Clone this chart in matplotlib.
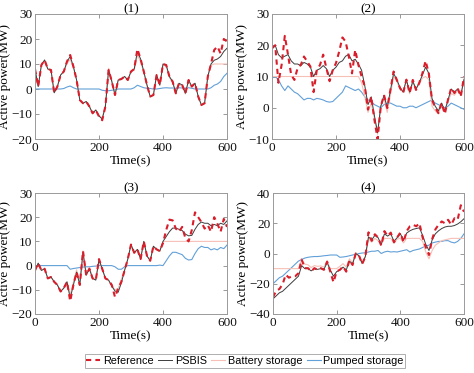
import numpy as np
import matplotlib
matplotlib.use("Agg")
import matplotlib.pyplot as plt

# time axis (s)
t = list(range(0, 601, 10))

# ---------------- Panel (1) ----------------
ref1 = [8, 1, 9.6, 11.6, 8, 7.6, -1.5, 1, 5.6, 7,
        11, 13.6, 9, 3.6, -4.4, -5.7, -5, -7, -9.7, -8.4,
        -11, -12.5, -7, 7.6, 3, -2.4, 3.6, 4, 5, 3.6,
        7, 8, 16, 12, 7, 1.6, -3, -2.4, 5.6, 1.6,
        10, 9.6, 5, 3, -1.7, 2.3, 1.6, -1.7, 3.6, 1,
        2.3, -3, -6.4, -5.7, 5, 10, 15.6, 17, 14.2, 20,
        19]
psb1 = [8, 1, 9.6, 11.6, 8, 7.6, -1.5, 1, 5.6, 7,
        11, 13, 9, 3.6, -4.4, -5.7, -5, -7, -9.7, -8.4,
        -10.8, -12, -7, 7.6, 3, -2.4, 3.6, 4, 5, 3.6,
        7, 8, 15, 12, 7, 1.6, -3, -2.4, 5.6, 1.6,
        10, 9.6, 5, 3, -1.7, 2.3, 1.6, -1.7, 3.6, 1,
        2.3, -3, -6.4, -5.7, 5, 10, 11.5, 12, 13, 15,
        16.3]
bat1 = [8, 1, 9.6, 11.6, 8, 7.6, -1.5, 1, 5.6, 6.8,
        10.2, 11.8, 8.5, 3.6, -4.4, -5.7, -5, -7, -9.7, -8.4,
        -10.8, -11.5, -6.3, 8.3, 3.5, -2.1, 3.6, 4, 5, 3.6,
        7, 7.5, 13.5, 11, 6.5, 1.3, -3.2, -2.4, 5.6, 1.4,
        9.6, 9.1, 4.6, 2.6, -2, 1.8, 1.2, -2, 3.1, 0.7,
        2.3, -3, -6.4, -5.7, 5, 9.5, 10, 10, 10, 10,
        10]
pum1 = [0, 0, 0, 0, 0, 0, 0, 0, 0, 0.2,
        0.8, 1.2, 0.5, 0, 0, 0, 0, 0, 0, 0,
        0, -0.5, -0.7, -0.7, -0.5, -0.3, 0, 0, 0, 0,
        0, 0.5, 1.5, 1, 0.5, 0.3, 0.2, 0, 0, 0.2,
        0.4, 0.5, 0.4, 0.4, 0.3, 0.5, 0.4, 0.3, 0.5, 0.3,
        0, 0, 0, 0, 0, 0.5, 1.5, 2, 3, 5,
        6.3]

# ---------------- Panel (2) ----------------
ref2 = [19, 20, 8, 13.7, 23, 17, 10.5, 8.9, 12.7, 13.7,
        16.4, 14.8, 13.2, 5, 12.1, 13.7, 17, 12.7, 8.5, 12.1,
        14.3, 18, 22.5, 21.2, 16.4, 11, 18.5, 13.7, 10, 6.8,
        -0.6, 3.6, -3.8, -10, 0.4, 4.1, -0.1, 5.7, 11.6, 8.9,
        6.3, 4.7, 9, 4.7, 8.9, 5.7, 7.9, 11, 15, 11,
        2.6, 0, -1.7, 1.5, -2, 2.6, 6.3, 4.7, 6.3, 3.6,
        10]
psb2 = [19, 20, 17, 16, 16.5, 17, 15, 14, 14, 13.5,
        14.5, 14, 13, 10, 12, 12.5, 13.5, 12.5, 10, 12,
        13, 14.5, 15, 16.5, 17, 15, 15.5, 14, 12, 7,
        1, 3.5, -2.5, -8, 0.5, 4, 0, 5.5, 11, 9,
        6.5, 5, 9, 5, 8.5, 6, 8, 10.5, 13, 11,
        3, 0.5, -1, 1.5, -1, 2.5, 6, 5, 6, 4,
        9]
bat2 = [10, 10, 10, 10, 10, 10, 10, 10, 10, 10,
        10, 10, 10, 10, 10, 10, 10, 10, 10, 10,
        10, 10, 10, 10, 10, 10, 10, 10, 8, 3.5,
        -1.5, 1.5, -3.5, -8.5, 0.5, 3, -1.5, 4, 10, 8.5,
        6, 5, 9, 4.5, 8, 6, 7.5, 9.5, 10, 9,
        0.5, -1, -2, 1, -1, 2, 4.5, 4, 5.5, 4,
        9.5]
pum2 = [9.5, 10, 9, 7, 5.5, 7, 6, 5, 4.5, 3.5,
        2.5, 3, 3, 2.5, 3, 2.8, 2.5, 2, 1.8, 2,
        3, 4, 5, 7, 6.5, 6, 5.5, 6, 5, 3.5,
        2.5, 2, 1, 0.5, 0, 1, 1.5, 1.5, 1, 0.5,
        0.5, 0, 0, 0.5, 0.5, 0, 0.5, 1, 1.5, 2,
        2.5, 1.5, 1, 0.5, 0, 0.5, 1.5, 1, 0.5, 0,
        -0.5]

# ---------------- Panel (3) ----------------
ref3 = [-2, 1, -2, -1.3, -5.3, -4.7, -6.7, -8, -10.7, -9.3,
        -6.7, -14.7, -8, -2.7, -8, 6, -4, -1.3, -5.3, -6,
        2.7, -1.3, -5.3, -6, -8, -13, -9.3, -6.7, -2, 2.7,
        8.7, 5.3, 6.7, 2.7, 10, 4, 2, 8, 6.7, 6,
        9.3, 14.7, 19, 18.7, 15.3, 14, 16, 11.3, 10, 14.7,
        22, 20, 18, 15.3, 16.7, 14, 20, 17.3, 14, 19.3,
        16]
psb3 = [-2, 1, -2, -1.3, -5.3, -4.7, -6.7, -8, -10.7, -9.3,
        -6.7, -13.5, -8, -2.7, -8, 5.5, -4, -1.3, -5.3, -6,
        2.5, -1.3, -5.3, -6, -8.5, -10.5, -11, -7, -2, 2.7,
        8.7, 5.3, 6.7, 2.7, 10, 4, 2, 8, 6.7, 6,
        10, 12, 14, 15.5, 15.5, 15, 14.5, 13, 12.3, 12.5,
        15, 17, 18, 17.5, 17.5, 16.5, 17, 16.5, 17.5, 17,
        18.5]
bat3 = [-2, 1, -2, -1.3, -5.3, -4.7, -6.7, -8, -10.7, -9.3,
        -6.7, -12, -6.8, -1.7, -7.2, 6.1, -3.5, -0.8, -5, -5.8,
        2.5, -1.3, -5.3, -6, -8.5, -10, -9.5, -5.5, -1.5, 2.7,
        8.7, 5.3, 6.7, 2.7, 10, 4, 2, 8, 6.7, 5.8,
        10, 10, 10, 10, 10, 10, 10, 10, 10, 10,
        10, 10, 10, 10, 10, 10, 10, 10, 10, 10,
        10]
pum3 = [0, 0, 0, 0, 0, 0, 0, 0, 0, 0,
        0, -1.5, -1.2, -1, -0.8, -0.6, -0.5, -0.5, -0.3, -0.2,
        0, 0, 0, 0, 0, -0.5, -1.5, -1.5, -0.5, 0,
        0, 0, 0, 0, 0, 0, 0, 0, 0, 0.2,
        0, 2, 4, 5.5, 5.5, 5, 4.5, 3, 2.3, 2.5,
        5, 7, 8, 7.5, 7.5, 6.5, 7, 6.5, 7.5, 7,
        8.5]

# ---------------- Panel (4) ----------------
ref4 = [-29, -24.6, -23.5, -20.4, -14, -16, -15, -15, -13, -4,
        -9.7, -9.7, -11.8, -9.7, -10.8, -9.7, -10.8, -5.4, -12, -19,
        -11.8, -10.8, -8.6, -12, -4.4, -7.6, 0, -1.2, -7, -2.2,
        14, 8.4, 12.7, 10.6, 5.2, 14.8, 11.6, 13.8, 7.4, 10.6,
        13.8, 7.4, 14.8, 18, 19, 18, 20, 10.6, 4.2, -1,
        9.5, 15.9, 19, 21.2, 20, 22.3, 19, 23.3, 22.3, 31.9,
        27.6]
psb4 = [-30, -28, -26, -25, -23, -21, -19, -17, -15, -8,
        -10, -10, -11.5, -10, -10.5, -10, -10.5, -6, -11, -15,
        -12, -11, -9, -11, -5, -7, 0, -1.5, -6.5, -2,
        11, 9, 12, 10.5, 6, 13, 11.5, 13, 8, 10.5,
        13, 9, 13.5, 15, 16, 16.5, 17, 12, 6, 2,
        9, 13, 15, 16.5, 17.5, 18, 18, 18.5, 19.5, 21,
        23]
bat4 = [-10, -10, -10, -10, -10, -10, -10, -10, -10, -4,
        -7, -7.5, -9.3, -8, -8.5, -8.2, -9, -4.7, -10, -10,
        -10, -8.5, -6.7, -9, -3.5, -6, 0.5, -1.5, -6.8, -2.5,
        10, 7.5, 10, 8.5, 6, 10, 10, 10, 6.8, 9.5,
        10, 7, 10, 10, 10, 10, 10, 8, 1, -3.5,
        2, 5.5, 7, 8.5, 9, 9.5, 10, 10, 10, 10,
        10]
pum4 = [-20, -18, -16, -15, -13, -11, -9, -7, -5, -4,
        -3, -2.5, -2.2, -2, -2, -1.8, -1.5, -1.3, -1, -1,
        -1, -2.5, -2.3, -2, -1.5, -1, -0.5, 0, 0.3, 0.5,
        1, 1.5, 1.5, 2, 0, 1, 1.5, 1, 1.2, 1,
        1.5, 2, 2.5, 1, 2, 2.5, 3, 4, 5, 5.5,
        7, 7.5, 8, 8, 8.5, 8.5, 7.5, 7, 8, 10,
        13]

titles = ["(1)", "(2)", "(3)", "(4)"]
ylims = [(-20, 30), (-10, 30), (-20, 30), (-40, 40)]
yticks = [[-20, -10, 0, 10, 20, 30], [-10, 0, 10, 20, 30],
          [-20, -10, 0, 10, 20, 30], [-40, -20, 0, 20, 40]]
xticks = [0, 200, 400, 600]
series = [(ref1, psb1, bat1, pum1), (ref2, psb2, bat2, pum2),
          (ref3, psb3, bat3, pum3), (ref4, psb4, bat4, pum4)]
legend_labels = ["Reference", "PSBIS", "Battery storage", "Pumped storage"]

c_ref = "#d81e2a"
c_psb = "#3c3c3c"
c_bat = "#f6c0b6"
c_pum = "#62a0d8"

W, H = 474, 373
fig = plt.figure(figsize=(W / 100, H / 100), dpi=100)
serif = ["Liberation Serif", "DejaVu Serif"]
fs = 9.5

# axes positions in pixels: left, top, right, bottom
pos_px = [(35, 14, 227, 139), (272, 14, 464, 139),
          (35, 193, 227, 314), (273, 193, 464, 314)]

handles = None
for i, (l, tp, r, b) in enumerate(pos_px):
    ax = fig.add_axes([l / W, 1 - b / H, (r - l) / W, (b - tp) / H])
    ref, psb, bat, pum = series[i]
    hp, = ax.plot(t, pum, color=c_pum, lw=0.8)
    hb, = ax.plot(t, bat, color=c_bat, lw=0.8)
    hs, = ax.plot(t, psb, color=c_psb, lw=0.7)
    hr, = ax.plot(t, ref, color=c_ref, lw=1.5, ls=(0, (2.5, 2)))
    handles = [hr, hs, hb, hp]
    ax.set_xlim(0, 600)
    ax.set_ylim(*ylims[i])
    ax.set_xticks(xticks)
    ax.set_yticks(yticks[i])
    ax.tick_params(direction="in", length=3, width=0.6, color="#888888",
                   labelsize=fs, pad=2, top=True, right=True, labelcolor="#111111")
    for lab in ax.get_xticklabels() + ax.get_yticklabels():
        lab.set_family(serif)
    for sp in ax.spines.values():
        sp.set_color("#9a9a9a")
        sp.set_linewidth(0.7)
    ax.set_title(titles[i], fontsize=fs, family=serif, pad=1.5)
    ax.set_xlabel("Time(s)", fontsize=fs, family=serif, labelpad=1)
    ax.set_ylabel("Active power(MW)", fontsize=fs, family=serif, labelpad=0)

leg = fig.legend(handles, legend_labels, loc="center",
                 bbox_to_anchor=(245 / W, 1 - 361 / H), ncol=4,
                 prop={"family": ["Liberation Sans", "DejaVu Sans"], "size": 7.8},
                 frameon=True, fancybox=False, handlelength=1.3,
                 handletextpad=0.25, columnspacing=0.4, borderpad=0.15,
                 borderaxespad=0)
leg.get_frame().set_edgecolor("#9a9a9a")
leg.get_frame().set_linewidth(0.7)

fig.savefig("out.png", dpi=100)
